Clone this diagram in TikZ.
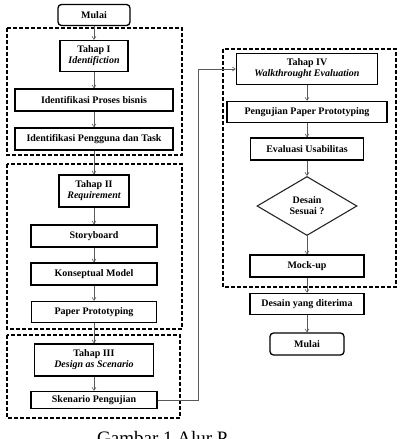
\documentclass[tikz,border=0pt]{standalone}
\usepackage{fontspec}
\setmainfont{Liberation Serif}
\usetikzlibrary{shapes.geometric,arrows.meta}
\tikzset{
  box/.style={draw=black, line width=1.3pt, fill=white, inner sep=0pt, align=center,
     font=\fontsize{10}{11}\selectfont\bfseries},
  term/.style={box, rounded corners=3.5pt},
  dec/.style={draw=black!85, line width=1.1pt, diamond, aspect=1.7, inner sep=0pt, align=center,
     minimum width=100pt, minimum height=59pt, font=\fontsize{10}{11}\selectfont\bfseries},
  group/.style={draw=black, line width=1.2pt, dash pattern=on 4pt off 2pt},
  flow/.style={draw=black!65, line width=0.6pt, -{Straight Barb[length=3pt,width=4pt]}},
}
\begin{document}
\begin{tikzpicture}[x=1pt,y=-1pt]
\useasboundingbox (0,0) rectangle (401,439);
% dashed groups
\draw[group] (7,28) rectangle (182,155);
\draw[group] (7,164) rectangle (182,329);
\draw[group] (7,335) rectangle (180,418);
\draw[group] (223,49) rectangle (396,287);
% left column
\node[term, minimum width=72pt, minimum height=21pt] (m1) at (94,15) {Mulai};
\node[box, minimum width=68pt, minimum height=31pt] (t1) at (94,56) {Tahap I\\\itshape Identifiction};
\node[box, minimum width=158pt, minimum height=22pt] (ipb) at (94,100) {Identifikasi Proses bisnis};
\node[box, minimum width=158pt, minimum height=22pt] (ipt) at (94,139) {Identifikasi Pengguna dan Task};
\node[box, minimum width=70pt, minimum height=32pt] (t2) at (94,191) {Tahap II\\\itshape Requirement};
\node[box, minimum width=126pt, minimum height=22pt] (sb) at (94,236) {Storyboard};
\node[box, minimum width=126pt, minimum height=22pt] (km) at (94,274) {Konseptual Model};
\node[box, minimum width=125pt, minimum height=21pt] (pp) at (94,312) {Paper Prototyping};
\node[box, minimum width=119pt, minimum height=32pt] (t3) at (94,360) {Tahap III\\\itshape Design as Scenario};
\node[box, minimum width=126pt, minimum height=17pt] (sp) at (94,400) {Skenario Pengujian};
% right column
\node[box, minimum width=141pt, minimum height=31pt] (t4) at (307,69) {Tahap IV\\\itshape Walkthrought Evaluation};
\node[box, minimum width=160pt, minimum height=21pt] (ppp) at (307,112) {Pengujian Paper Prototyping};
\node[box, minimum width=113pt, minimum height=22pt] (eu) at (307,149) {Evaluasi Usabilitas};
\node[dec] (ds) at (307,206) {Desain\\Sesuai ?};
\node[box, minimum width=114pt, minimum height=22pt] (mu) at (307,266) {Mock-up};
\node[box, minimum width=114pt, minimum height=21pt] (dd) at (307,304) {Desain yang diterima};
\node[term, minimum width=74pt, minimum height=22pt] (m2) at (307,344) {Mulai};
% connectors
\draw[flow] (m1) -- (t1);
\draw[flow] (t1) -- (ipb);
\draw[flow] (ipb) -- (ipt);
\draw[flow] (ipt) -- (t2);
\draw[flow] (t2) -- (sb);
\draw[flow] (sb) -- (km);
\draw[flow] (km) -- (pp);
\draw[flow] (pp) -- (t3);
\draw[flow] (t3) -- (sp);
\draw[flow] (sp.east) -- ++(41,0) |- (t4.west);
\draw[flow] (t4) -- (ppp);
\draw[flow] (ppp) -- (eu);
\draw[flow] (eu) -- (ds);
\draw[flow] (ds) -- (mu);
\draw[flow] (mu) -- (dd);
\draw[flow] (dd) -- (m2);
% caption (cut off at the bottom edge, as in the reference)
\node[anchor=base west, inner sep=0pt, font=\fontsize{19}{20}\selectfont] (cap) at (97,444) {Gambar 1 Alur P};
\end{tikzpicture}
\end{document}
